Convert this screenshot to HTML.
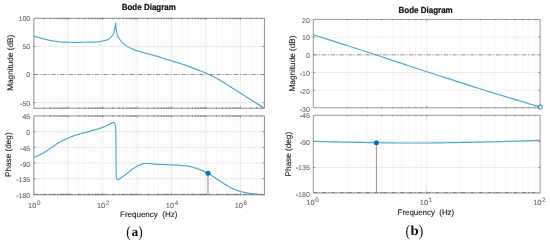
<!DOCTYPE html>
<html><head><meta charset="utf-8"><title>Bode Diagram</title>
<style>html,body{margin:0;padding:0;background:#fff}svg{display:block}text{text-rendering:geometricPrecision}</style></head>
<body><svg width="550" height="243" viewBox="0 0 550 243" font-family='"Liberation Sans", Arial, Helvetica, sans-serif'>
<rect width="550" height="243" fill="#fff"/>
<line x1="44.27" y1="18.3" x2="44.27" y2="108.2" stroke="#e9e9e9" stroke-width="0.6" stroke-dasharray="0.8 0.8"/>
<line x1="50.33" y1="18.3" x2="50.33" y2="108.2" stroke="#e9e9e9" stroke-width="0.6" stroke-dasharray="0.8 0.8"/>
<line x1="54.63" y1="18.3" x2="54.63" y2="108.2" stroke="#e9e9e9" stroke-width="0.6" stroke-dasharray="0.8 0.8"/>
<line x1="57.97" y1="18.3" x2="57.97" y2="108.2" stroke="#e9e9e9" stroke-width="0.6" stroke-dasharray="0.8 0.8"/>
<line x1="60.69" y1="18.3" x2="60.69" y2="108.2" stroke="#e9e9e9" stroke-width="0.6" stroke-dasharray="0.8 0.8"/>
<line x1="63" y1="18.3" x2="63" y2="108.2" stroke="#e9e9e9" stroke-width="0.6" stroke-dasharray="0.8 0.8"/>
<line x1="65" y1="18.3" x2="65" y2="108.2" stroke="#e9e9e9" stroke-width="0.6" stroke-dasharray="0.8 0.8"/>
<line x1="66.76" y1="18.3" x2="66.76" y2="108.2" stroke="#e9e9e9" stroke-width="0.6" stroke-dasharray="0.8 0.8"/>
<line x1="78.7" y1="18.3" x2="78.7" y2="108.2" stroke="#e9e9e9" stroke-width="0.6" stroke-dasharray="0.8 0.8"/>
<line x1="84.76" y1="18.3" x2="84.76" y2="108.2" stroke="#e9e9e9" stroke-width="0.6" stroke-dasharray="0.8 0.8"/>
<line x1="89.06" y1="18.3" x2="89.06" y2="108.2" stroke="#e9e9e9" stroke-width="0.6" stroke-dasharray="0.8 0.8"/>
<line x1="92.4" y1="18.3" x2="92.4" y2="108.2" stroke="#e9e9e9" stroke-width="0.6" stroke-dasharray="0.8 0.8"/>
<line x1="95.13" y1="18.3" x2="95.13" y2="108.2" stroke="#e9e9e9" stroke-width="0.6" stroke-dasharray="0.8 0.8"/>
<line x1="97.43" y1="18.3" x2="97.43" y2="108.2" stroke="#e9e9e9" stroke-width="0.6" stroke-dasharray="0.8 0.8"/>
<line x1="99.43" y1="18.3" x2="99.43" y2="108.2" stroke="#e9e9e9" stroke-width="0.6" stroke-dasharray="0.8 0.8"/>
<line x1="101.19" y1="18.3" x2="101.19" y2="108.2" stroke="#e9e9e9" stroke-width="0.6" stroke-dasharray="0.8 0.8"/>
<line x1="68.33" y1="18.3" x2="68.33" y2="108.2" stroke="#e3e3e3" stroke-width="0.7"/>
<line x1="113.13" y1="18.3" x2="113.13" y2="108.2" stroke="#e9e9e9" stroke-width="0.6" stroke-dasharray="0.8 0.8"/>
<line x1="119.2" y1="18.3" x2="119.2" y2="108.2" stroke="#e9e9e9" stroke-width="0.6" stroke-dasharray="0.8 0.8"/>
<line x1="123.5" y1="18.3" x2="123.5" y2="108.2" stroke="#e9e9e9" stroke-width="0.6" stroke-dasharray="0.8 0.8"/>
<line x1="126.83" y1="18.3" x2="126.83" y2="108.2" stroke="#e9e9e9" stroke-width="0.6" stroke-dasharray="0.8 0.8"/>
<line x1="129.56" y1="18.3" x2="129.56" y2="108.2" stroke="#e9e9e9" stroke-width="0.6" stroke-dasharray="0.8 0.8"/>
<line x1="131.87" y1="18.3" x2="131.87" y2="108.2" stroke="#e9e9e9" stroke-width="0.6" stroke-dasharray="0.8 0.8"/>
<line x1="133.86" y1="18.3" x2="133.86" y2="108.2" stroke="#e9e9e9" stroke-width="0.6" stroke-dasharray="0.8 0.8"/>
<line x1="135.62" y1="18.3" x2="135.62" y2="108.2" stroke="#e9e9e9" stroke-width="0.6" stroke-dasharray="0.8 0.8"/>
<line x1="102.77" y1="18.3" x2="102.77" y2="108.2" stroke="#e3e3e3" stroke-width="0.7"/>
<line x1="147.57" y1="18.3" x2="147.57" y2="108.2" stroke="#e9e9e9" stroke-width="0.6" stroke-dasharray="0.8 0.8"/>
<line x1="153.63" y1="18.3" x2="153.63" y2="108.2" stroke="#e9e9e9" stroke-width="0.6" stroke-dasharray="0.8 0.8"/>
<line x1="157.93" y1="18.3" x2="157.93" y2="108.2" stroke="#e9e9e9" stroke-width="0.6" stroke-dasharray="0.8 0.8"/>
<line x1="161.27" y1="18.3" x2="161.27" y2="108.2" stroke="#e9e9e9" stroke-width="0.6" stroke-dasharray="0.8 0.8"/>
<line x1="163.99" y1="18.3" x2="163.99" y2="108.2" stroke="#e9e9e9" stroke-width="0.6" stroke-dasharray="0.8 0.8"/>
<line x1="166.3" y1="18.3" x2="166.3" y2="108.2" stroke="#e9e9e9" stroke-width="0.6" stroke-dasharray="0.8 0.8"/>
<line x1="168.3" y1="18.3" x2="168.3" y2="108.2" stroke="#e9e9e9" stroke-width="0.6" stroke-dasharray="0.8 0.8"/>
<line x1="170.06" y1="18.3" x2="170.06" y2="108.2" stroke="#e9e9e9" stroke-width="0.6" stroke-dasharray="0.8 0.8"/>
<line x1="137.2" y1="18.3" x2="137.2" y2="108.2" stroke="#e3e3e3" stroke-width="0.7"/>
<line x1="182" y1="18.3" x2="182" y2="108.2" stroke="#e9e9e9" stroke-width="0.6" stroke-dasharray="0.8 0.8"/>
<line x1="188.06" y1="18.3" x2="188.06" y2="108.2" stroke="#e9e9e9" stroke-width="0.6" stroke-dasharray="0.8 0.8"/>
<line x1="192.36" y1="18.3" x2="192.36" y2="108.2" stroke="#e9e9e9" stroke-width="0.6" stroke-dasharray="0.8 0.8"/>
<line x1="195.7" y1="18.3" x2="195.7" y2="108.2" stroke="#e9e9e9" stroke-width="0.6" stroke-dasharray="0.8 0.8"/>
<line x1="198.43" y1="18.3" x2="198.43" y2="108.2" stroke="#e9e9e9" stroke-width="0.6" stroke-dasharray="0.8 0.8"/>
<line x1="200.73" y1="18.3" x2="200.73" y2="108.2" stroke="#e9e9e9" stroke-width="0.6" stroke-dasharray="0.8 0.8"/>
<line x1="202.73" y1="18.3" x2="202.73" y2="108.2" stroke="#e9e9e9" stroke-width="0.6" stroke-dasharray="0.8 0.8"/>
<line x1="204.49" y1="18.3" x2="204.49" y2="108.2" stroke="#e9e9e9" stroke-width="0.6" stroke-dasharray="0.8 0.8"/>
<line x1="171.63" y1="18.3" x2="171.63" y2="108.2" stroke="#e3e3e3" stroke-width="0.7"/>
<line x1="216.43" y1="18.3" x2="216.43" y2="108.2" stroke="#e9e9e9" stroke-width="0.6" stroke-dasharray="0.8 0.8"/>
<line x1="222.5" y1="18.3" x2="222.5" y2="108.2" stroke="#e9e9e9" stroke-width="0.6" stroke-dasharray="0.8 0.8"/>
<line x1="226.8" y1="18.3" x2="226.8" y2="108.2" stroke="#e9e9e9" stroke-width="0.6" stroke-dasharray="0.8 0.8"/>
<line x1="230.13" y1="18.3" x2="230.13" y2="108.2" stroke="#e9e9e9" stroke-width="0.6" stroke-dasharray="0.8 0.8"/>
<line x1="232.86" y1="18.3" x2="232.86" y2="108.2" stroke="#e9e9e9" stroke-width="0.6" stroke-dasharray="0.8 0.8"/>
<line x1="235.17" y1="18.3" x2="235.17" y2="108.2" stroke="#e9e9e9" stroke-width="0.6" stroke-dasharray="0.8 0.8"/>
<line x1="237.16" y1="18.3" x2="237.16" y2="108.2" stroke="#e9e9e9" stroke-width="0.6" stroke-dasharray="0.8 0.8"/>
<line x1="238.92" y1="18.3" x2="238.92" y2="108.2" stroke="#e9e9e9" stroke-width="0.6" stroke-dasharray="0.8 0.8"/>
<line x1="206.07" y1="18.3" x2="206.07" y2="108.2" stroke="#e3e3e3" stroke-width="0.7"/>
<line x1="250.87" y1="18.3" x2="250.87" y2="108.2" stroke="#e9e9e9" stroke-width="0.6" stroke-dasharray="0.8 0.8"/>
<line x1="256.93" y1="18.3" x2="256.93" y2="108.2" stroke="#e9e9e9" stroke-width="0.6" stroke-dasharray="0.8 0.8"/>
<line x1="261.23" y1="18.3" x2="261.23" y2="108.2" stroke="#e9e9e9" stroke-width="0.6" stroke-dasharray="0.8 0.8"/>
<line x1="240.5" y1="18.3" x2="240.5" y2="108.2" stroke="#e3e3e3" stroke-width="0.7"/>
<line x1="33.9" y1="46.4" x2="264.4" y2="46.4" stroke="#e3e3e3" stroke-width="0.7"/>
<line x1="33.9" y1="74.5" x2="264.4" y2="74.5" stroke="#e3e3e3" stroke-width="0.7"/>
<line x1="33.9" y1="102.6" x2="264.4" y2="102.6" stroke="#e3e3e3" stroke-width="0.7"/>
<line x1="44.27" y1="115.9" x2="44.27" y2="194.8" stroke="#e9e9e9" stroke-width="0.6" stroke-dasharray="0.8 0.8"/>
<line x1="50.33" y1="115.9" x2="50.33" y2="194.8" stroke="#e9e9e9" stroke-width="0.6" stroke-dasharray="0.8 0.8"/>
<line x1="54.63" y1="115.9" x2="54.63" y2="194.8" stroke="#e9e9e9" stroke-width="0.6" stroke-dasharray="0.8 0.8"/>
<line x1="57.97" y1="115.9" x2="57.97" y2="194.8" stroke="#e9e9e9" stroke-width="0.6" stroke-dasharray="0.8 0.8"/>
<line x1="60.69" y1="115.9" x2="60.69" y2="194.8" stroke="#e9e9e9" stroke-width="0.6" stroke-dasharray="0.8 0.8"/>
<line x1="63" y1="115.9" x2="63" y2="194.8" stroke="#e9e9e9" stroke-width="0.6" stroke-dasharray="0.8 0.8"/>
<line x1="65" y1="115.9" x2="65" y2="194.8" stroke="#e9e9e9" stroke-width="0.6" stroke-dasharray="0.8 0.8"/>
<line x1="66.76" y1="115.9" x2="66.76" y2="194.8" stroke="#e9e9e9" stroke-width="0.6" stroke-dasharray="0.8 0.8"/>
<line x1="78.7" y1="115.9" x2="78.7" y2="194.8" stroke="#e9e9e9" stroke-width="0.6" stroke-dasharray="0.8 0.8"/>
<line x1="84.76" y1="115.9" x2="84.76" y2="194.8" stroke="#e9e9e9" stroke-width="0.6" stroke-dasharray="0.8 0.8"/>
<line x1="89.06" y1="115.9" x2="89.06" y2="194.8" stroke="#e9e9e9" stroke-width="0.6" stroke-dasharray="0.8 0.8"/>
<line x1="92.4" y1="115.9" x2="92.4" y2="194.8" stroke="#e9e9e9" stroke-width="0.6" stroke-dasharray="0.8 0.8"/>
<line x1="95.13" y1="115.9" x2="95.13" y2="194.8" stroke="#e9e9e9" stroke-width="0.6" stroke-dasharray="0.8 0.8"/>
<line x1="97.43" y1="115.9" x2="97.43" y2="194.8" stroke="#e9e9e9" stroke-width="0.6" stroke-dasharray="0.8 0.8"/>
<line x1="99.43" y1="115.9" x2="99.43" y2="194.8" stroke="#e9e9e9" stroke-width="0.6" stroke-dasharray="0.8 0.8"/>
<line x1="101.19" y1="115.9" x2="101.19" y2="194.8" stroke="#e9e9e9" stroke-width="0.6" stroke-dasharray="0.8 0.8"/>
<line x1="68.33" y1="115.9" x2="68.33" y2="194.8" stroke="#e3e3e3" stroke-width="0.7"/>
<line x1="113.13" y1="115.9" x2="113.13" y2="194.8" stroke="#e9e9e9" stroke-width="0.6" stroke-dasharray="0.8 0.8"/>
<line x1="119.2" y1="115.9" x2="119.2" y2="194.8" stroke="#e9e9e9" stroke-width="0.6" stroke-dasharray="0.8 0.8"/>
<line x1="123.5" y1="115.9" x2="123.5" y2="194.8" stroke="#e9e9e9" stroke-width="0.6" stroke-dasharray="0.8 0.8"/>
<line x1="126.83" y1="115.9" x2="126.83" y2="194.8" stroke="#e9e9e9" stroke-width="0.6" stroke-dasharray="0.8 0.8"/>
<line x1="129.56" y1="115.9" x2="129.56" y2="194.8" stroke="#e9e9e9" stroke-width="0.6" stroke-dasharray="0.8 0.8"/>
<line x1="131.87" y1="115.9" x2="131.87" y2="194.8" stroke="#e9e9e9" stroke-width="0.6" stroke-dasharray="0.8 0.8"/>
<line x1="133.86" y1="115.9" x2="133.86" y2="194.8" stroke="#e9e9e9" stroke-width="0.6" stroke-dasharray="0.8 0.8"/>
<line x1="135.62" y1="115.9" x2="135.62" y2="194.8" stroke="#e9e9e9" stroke-width="0.6" stroke-dasharray="0.8 0.8"/>
<line x1="102.77" y1="115.9" x2="102.77" y2="194.8" stroke="#e3e3e3" stroke-width="0.7"/>
<line x1="147.57" y1="115.9" x2="147.57" y2="194.8" stroke="#e9e9e9" stroke-width="0.6" stroke-dasharray="0.8 0.8"/>
<line x1="153.63" y1="115.9" x2="153.63" y2="194.8" stroke="#e9e9e9" stroke-width="0.6" stroke-dasharray="0.8 0.8"/>
<line x1="157.93" y1="115.9" x2="157.93" y2="194.8" stroke="#e9e9e9" stroke-width="0.6" stroke-dasharray="0.8 0.8"/>
<line x1="161.27" y1="115.9" x2="161.27" y2="194.8" stroke="#e9e9e9" stroke-width="0.6" stroke-dasharray="0.8 0.8"/>
<line x1="163.99" y1="115.9" x2="163.99" y2="194.8" stroke="#e9e9e9" stroke-width="0.6" stroke-dasharray="0.8 0.8"/>
<line x1="166.3" y1="115.9" x2="166.3" y2="194.8" stroke="#e9e9e9" stroke-width="0.6" stroke-dasharray="0.8 0.8"/>
<line x1="168.3" y1="115.9" x2="168.3" y2="194.8" stroke="#e9e9e9" stroke-width="0.6" stroke-dasharray="0.8 0.8"/>
<line x1="170.06" y1="115.9" x2="170.06" y2="194.8" stroke="#e9e9e9" stroke-width="0.6" stroke-dasharray="0.8 0.8"/>
<line x1="137.2" y1="115.9" x2="137.2" y2="194.8" stroke="#e3e3e3" stroke-width="0.7"/>
<line x1="182" y1="115.9" x2="182" y2="194.8" stroke="#e9e9e9" stroke-width="0.6" stroke-dasharray="0.8 0.8"/>
<line x1="188.06" y1="115.9" x2="188.06" y2="194.8" stroke="#e9e9e9" stroke-width="0.6" stroke-dasharray="0.8 0.8"/>
<line x1="192.36" y1="115.9" x2="192.36" y2="194.8" stroke="#e9e9e9" stroke-width="0.6" stroke-dasharray="0.8 0.8"/>
<line x1="195.7" y1="115.9" x2="195.7" y2="194.8" stroke="#e9e9e9" stroke-width="0.6" stroke-dasharray="0.8 0.8"/>
<line x1="198.43" y1="115.9" x2="198.43" y2="194.8" stroke="#e9e9e9" stroke-width="0.6" stroke-dasharray="0.8 0.8"/>
<line x1="200.73" y1="115.9" x2="200.73" y2="194.8" stroke="#e9e9e9" stroke-width="0.6" stroke-dasharray="0.8 0.8"/>
<line x1="202.73" y1="115.9" x2="202.73" y2="194.8" stroke="#e9e9e9" stroke-width="0.6" stroke-dasharray="0.8 0.8"/>
<line x1="204.49" y1="115.9" x2="204.49" y2="194.8" stroke="#e9e9e9" stroke-width="0.6" stroke-dasharray="0.8 0.8"/>
<line x1="171.63" y1="115.9" x2="171.63" y2="194.8" stroke="#e3e3e3" stroke-width="0.7"/>
<line x1="216.43" y1="115.9" x2="216.43" y2="194.8" stroke="#e9e9e9" stroke-width="0.6" stroke-dasharray="0.8 0.8"/>
<line x1="222.5" y1="115.9" x2="222.5" y2="194.8" stroke="#e9e9e9" stroke-width="0.6" stroke-dasharray="0.8 0.8"/>
<line x1="226.8" y1="115.9" x2="226.8" y2="194.8" stroke="#e9e9e9" stroke-width="0.6" stroke-dasharray="0.8 0.8"/>
<line x1="230.13" y1="115.9" x2="230.13" y2="194.8" stroke="#e9e9e9" stroke-width="0.6" stroke-dasharray="0.8 0.8"/>
<line x1="232.86" y1="115.9" x2="232.86" y2="194.8" stroke="#e9e9e9" stroke-width="0.6" stroke-dasharray="0.8 0.8"/>
<line x1="235.17" y1="115.9" x2="235.17" y2="194.8" stroke="#e9e9e9" stroke-width="0.6" stroke-dasharray="0.8 0.8"/>
<line x1="237.16" y1="115.9" x2="237.16" y2="194.8" stroke="#e9e9e9" stroke-width="0.6" stroke-dasharray="0.8 0.8"/>
<line x1="238.92" y1="115.9" x2="238.92" y2="194.8" stroke="#e9e9e9" stroke-width="0.6" stroke-dasharray="0.8 0.8"/>
<line x1="206.07" y1="115.9" x2="206.07" y2="194.8" stroke="#e3e3e3" stroke-width="0.7"/>
<line x1="250.87" y1="115.9" x2="250.87" y2="194.8" stroke="#e9e9e9" stroke-width="0.6" stroke-dasharray="0.8 0.8"/>
<line x1="256.93" y1="115.9" x2="256.93" y2="194.8" stroke="#e9e9e9" stroke-width="0.6" stroke-dasharray="0.8 0.8"/>
<line x1="261.23" y1="115.9" x2="261.23" y2="194.8" stroke="#e9e9e9" stroke-width="0.6" stroke-dasharray="0.8 0.8"/>
<line x1="240.5" y1="115.9" x2="240.5" y2="194.8" stroke="#e3e3e3" stroke-width="0.7"/>
<line x1="33.9" y1="131.6" x2="264.4" y2="131.6" stroke="#e3e3e3" stroke-width="0.7"/>
<line x1="33.9" y1="147.3" x2="264.4" y2="147.3" stroke="#e3e3e3" stroke-width="0.7"/>
<line x1="33.9" y1="163" x2="264.4" y2="163" stroke="#e3e3e3" stroke-width="0.7"/>
<line x1="33.9" y1="178.7" x2="264.4" y2="178.7" stroke="#e3e3e3" stroke-width="0.7"/>
<line x1="33.9" y1="74.5" x2="264.4" y2="74.5" stroke="#808080" stroke-width="0.8" stroke-dasharray="4.4 1.5 1 1.8"/>
<line x1="33.9" y1="194.4" x2="264.4" y2="194.4" stroke="#5a5a5a" stroke-width="0.9" stroke-dasharray="4.4 1.5 1 1.8"/>
<path d="M33.9 36 L34.5 36.2 L35.1 36.39 L35.71 36.58 L36.31 36.77 L36.92 36.96 L37.52 37.14 L38.13 37.32 L38.73 37.5 L39.34 37.68 L39.95 37.86 L40.56 38.03 L41.16 38.2 L41.77 38.37 L42.38 38.53 L42.99 38.69 L43.61 38.85 L44.22 39.02 L44.83 39.18 L45.44 39.34 L46.05 39.5 L46.67 39.66 L47.28 39.82 L47.9 39.97 L48.51 40.11 L49.13 40.25 L49.75 40.37 L50.37 40.49 L50.99 40.6 L51.61 40.7 L52.23 40.8 L52.86 40.9 L53.48 41 L54.11 41.09 L54.73 41.19 L55.36 41.28 L55.99 41.37 L56.62 41.46 L57.25 41.54 L57.88 41.62 L58.51 41.7 L59.14 41.77 L59.77 41.84 L60.4 41.89 L61.03 41.95 L61.66 41.99 L62.29 42.03 L62.92 42.07 L63.55 42.09 L64.18 42.11 L64.81 42.13 L65.44 42.14 L66.07 42.16 L66.7 42.17 L67.33 42.19 L67.97 42.2 L68.6 42.22 L69.23 42.23 L69.86 42.24 L70.5 42.25 L71.13 42.26 L71.76 42.27 L72.4 42.28 L73.03 42.28 L73.66 42.29 L74.29 42.29 L74.93 42.3 L75.56 42.3 L76.19 42.3 L76.82 42.3 L77.46 42.3 L78.09 42.3 L78.72 42.3 L79.35 42.29 L79.98 42.29 L80.62 42.29 L81.25 42.28 L81.88 42.28 L82.51 42.27 L83.15 42.27 L83.78 42.26 L84.41 42.25 L85.04 42.25 L85.68 42.24 L86.31 42.23 L86.94 42.23 L87.57 42.22 L88.2 42.21 L88.84 42.21 L89.47 42.2 L90.1 42.19 L90.73 42.18 L91.37 42.17 L92 42.17 L92.63 42.16 L93.27 42.14 L93.9 42.13 L94.53 42.11 L95.16 42.09 L95.79 42.06 L96.42 42.02 L97.05 41.96 L97.68 41.88 L98.3 41.8 L98.93 41.7 L99.56 41.6 L100.18 41.49 L100.81 41.37 L101.43 41.25 L102.05 41.13 L102.67 41.01 L103.29 40.88 L103.91 40.75 L104.54 40.61 L105.16 40.45 L105.78 40.28 L106.38 40.08 L106.97 39.87 L107.53 39.64 L108.08 39.37 L108.63 39.05 L109.17 38.69 L109.69 38.3 L110.19 37.88 L110.67 37.45 L111.12 37 L111.54 36.55 L111.94 36.08 L112.33 35.57 L112.7 35.03 L113.03 34.48 L113.32 33.91 L113.56 33.35 L113.76 32.76 L113.95 32.17 L114.12 31.56 L114.28 30.94 L114.42 30.31 L114.55 29.68 L114.68 29.06 L114.79 28.43 L114.91 27.81 L115.01 27.19 L115.12 26.57 L115.22 25.94 L115.31 25.32 L115.39 24.69 L115.47 24.06 L115.54 23.43 L115.6 22.8 L115.6 22.8 L115.63 23.52 L115.67 24.25 L115.73 24.97 L115.79 25.69 L115.87 26.4 L115.95 27.12 L116.04 27.83 L116.14 28.54 L116.24 29.25 L116.35 29.96 L116.47 30.67 L116.58 31.38 L116.7 32.08 L116.84 32.8 L117 33.51 L117.17 34.21 L117.37 34.9 L117.59 35.57 L117.85 36.23 L118.16 36.87 L118.52 37.51 L118.91 38.13 L119.31 38.74 L119.72 39.32 L120.14 39.9 L120.59 40.45 L121.07 41 L121.56 41.53 L122.06 42.06 L122.57 42.57 L123.08 43.07 L123.6 43.57 L124.13 44.06 L124.67 44.54 L125.23 45 L125.8 45.43 L126.38 45.84 L126.98 46.23 L127.6 46.61 L128.23 46.97 L128.86 47.32 L129.5 47.65 L130.14 47.97 L130.79 48.27 L131.44 48.57 L132.11 48.85 L132.77 49.12 L133.44 49.39 L134.12 49.65 L134.79 49.9 L135.47 50.14 L136.15 50.38 L136.83 50.62 L137.51 50.84 L138.19 51.07 L138.88 51.29 L139.56 51.5 L140.25 51.71 L140.94 51.92 L141.63 52.12 L142.32 52.32 L143.02 52.52 L143.71 52.72 L144.4 52.91 L145.09 53.11 L145.79 53.3 L146.48 53.49 L147.17 53.69 L147.87 53.87 L148.56 54.05 L149.26 54.23 L149.96 54.41 L150.66 54.59 L151.35 54.76 L152.05 54.93 L152.75 55.11 L153.45 55.29 L154.14 55.47 L154.84 55.65 L155.53 55.84 L156.22 56.03 L156.91 56.23 L157.6 56.44 L158.29 56.66 L158.97 56.88 L159.65 57.11 L160.34 57.34 L161.02 57.57 L161.7 57.8 L162.38 58.04 L163.06 58.27 L163.74 58.5 L164.43 58.72 L165.11 58.93 L165.8 59.15 L166.49 59.35 L167.18 59.56 L167.87 59.76 L168.56 59.96 L169.25 60.16 L169.94 60.36 L170.63 60.56 L171.32 60.77 L172.01 60.97 L172.7 61.18 L173.39 61.39 L174.07 61.6 L174.76 61.81 L175.45 62.03 L176.14 62.24 L176.82 62.45 L177.51 62.67 L178.2 62.89 L178.88 63.11 L179.56 63.33 L180.25 63.55 L180.93 63.78 L181.61 64.01 L182.29 64.24 L182.97 64.47 L183.65 64.7 L184.33 64.94 L185.01 65.18 L185.69 65.42 L186.37 65.66 L187.04 65.9 L187.72 66.15 L188.4 66.39 L189.07 66.64 L189.75 66.89 L190.42 67.14 L191.1 67.39 L191.77 67.64 L192.44 67.89 L193.12 68.14 L193.79 68.4 L194.46 68.65 L195.14 68.9 L195.81 69.16 L196.48 69.41 L197.16 69.66 L197.83 69.92 L198.51 70.17 L199.18 70.43 L199.85 70.69 L200.53 70.94 L201.2 71.2 L201.87 71.47 L202.54 71.73 L203.21 72 L203.88 72.26 L204.54 72.54 L205.21 72.81 L205.87 73.09 L206.53 73.37 L207.19 73.65 L207.85 73.94 L208.5 74.23 L209.16 74.53 L209.81 74.83 L210.46 75.13 L211.1 75.44 L211.75 75.76 L212.39 76.08 L213.04 76.41 L213.68 76.73 L214.32 77.07 L214.95 77.4 L215.59 77.74 L216.22 78.09 L216.86 78.43 L217.49 78.78 L218.11 79.13 L218.74 79.48 L219.36 79.84 L219.99 80.19 L220.61 80.56 L221.22 80.92 L221.84 81.3 L222.45 81.67 L223.06 82.05 L223.67 82.43 L224.28 82.82 L224.89 83.21 L225.49 83.59 L226.1 83.98 L226.7 84.38 L227.3 84.77 L227.91 85.16 L228.51 85.55 L229.11 85.95 L229.72 86.34 L230.32 86.73 L230.93 87.12 L231.54 87.51 L232.14 87.89 L232.75 88.27 L233.36 88.66 L233.97 89.04 L234.58 89.43 L235.18 89.81 L235.79 90.19 L236.4 90.58 L237.01 90.96 L237.62 91.35 L238.22 91.73 L238.83 92.11 L239.44 92.5 L240.05 92.88 L240.66 93.27 L241.26 93.65 L241.87 94.04 L242.48 94.42 L243.09 94.81 L243.69 95.2 L244.3 95.58 L244.91 95.97 L245.51 96.35 L246.12 96.74 L246.72 97.13 L247.33 97.52 L247.93 97.91 L248.54 98.3 L249.14 98.69 L249.74 99.08 L250.35 99.48 L250.95 99.87 L251.55 100.26 L252.16 100.65 L252.76 101.04 L253.37 101.43 L253.97 101.81 L254.58 102.2 L255.19 102.59 L255.8 102.97 L256.4 103.35 L257.01 103.74 L257.62 104.12 L258.24 104.49 L258.85 104.87 L259.46 105.24 L260.08 105.62 L260.69 105.99 L261.31 106.36 L261.93 106.73 L262.54 107.1 L263.16 107.47 L263.78 107.83 L264.4 108.2" fill="none" stroke="#4eaad0" stroke-width="1.2" stroke-linejoin="round"/>
<line x1="208" y1="173.3" x2="208" y2="194.8" stroke="#a6a6a6" stroke-width="1.2"/>
<path d="M33.9 157.4 L34.47 157.17 L35.04 156.94 L35.6 156.71 L36.17 156.47 L36.73 156.22 L37.28 155.97 L37.84 155.72 L38.39 155.46 L38.94 155.2 L39.49 154.93 L40.04 154.67 L40.58 154.39 L41.12 154.12 L41.66 153.84 L42.2 153.55 L42.73 153.26 L43.26 152.97 L43.79 152.68 L44.32 152.38 L44.84 152.07 L45.36 151.75 L45.87 151.42 L46.38 151.09 L46.9 150.76 L47.4 150.42 L47.91 150.08 L48.42 149.74 L48.92 149.4 L49.43 149.05 L49.93 148.71 L50.44 148.37 L50.95 148.03 L51.46 147.7 L51.96 147.35 L52.46 147.01 L52.96 146.66 L53.46 146.3 L53.96 145.95 L54.46 145.6 L54.96 145.25 L55.46 144.9 L55.96 144.55 L56.46 144.21 L56.97 143.87 L57.48 143.54 L58 143.22 L58.52 142.91 L59.04 142.6 L59.57 142.3 L60.1 142.01 L60.63 141.71 L61.17 141.42 L61.7 141.13 L62.25 140.85 L62.79 140.57 L63.33 140.3 L63.88 140.02 L64.43 139.76 L64.98 139.49 L65.53 139.23 L66.09 138.98 L66.64 138.72 L67.2 138.48 L67.75 138.23 L68.31 137.99 L68.87 137.75 L69.43 137.52 L70 137.29 L70.56 137.06 L71.13 136.83 L71.7 136.61 L72.27 136.39 L72.84 136.18 L73.41 135.96 L73.99 135.76 L74.56 135.55 L75.14 135.35 L75.71 135.16 L76.29 134.97 L76.87 134.78 L77.45 134.6 L78.03 134.43 L78.61 134.25 L79.2 134.09 L79.78 133.92 L80.37 133.76 L80.96 133.6 L81.55 133.45 L82.14 133.29 L82.73 133.14 L83.32 132.99 L83.91 132.83 L84.5 132.68 L85.09 132.53 L85.68 132.38 L86.27 132.22 L86.86 132.07 L87.45 131.91 L88.04 131.75 L88.63 131.59 L89.21 131.42 L89.8 131.26 L90.39 131.09 L90.97 130.93 L91.56 130.76 L92.15 130.6 L92.74 130.44 L93.33 130.27 L93.92 130.11 L94.5 129.95 L95.09 129.78 L95.68 129.61 L96.26 129.44 L96.85 129.27 L97.43 129.1 L98.02 128.92 L98.6 128.74 L99.18 128.56 L99.76 128.37 L100.33 128.18 L100.91 127.99 L101.48 127.79 L102.05 127.58 L102.62 127.37 L103.18 127.15 L103.75 126.92 L104.31 126.68 L104.87 126.44 L105.42 126.19 L105.98 125.94 L106.53 125.68 L107.09 125.42 L107.64 125.16 L108.19 124.9 L108.75 124.64 L109.3 124.39 L109.85 124.13 L110.41 123.82 L110.98 123.48 L111.55 123.14 L112.11 122.83 L112.65 122.58 L113.18 122.43 L113.69 122.43 L114.24 122.78 L114.69 123.29 L114.91 123.78 L115.07 124.31 L115.21 124.89 L115.33 125.5 L115.43 126.14 L115.51 126.79 L115.56 127.43 L115.6 128.04 L115.63 128.65 L115.66 129.25 L115.68 129.86 L115.7 130.47 L115.73 131.07 L115.74 131.68 L115.76 132.29 L115.78 132.9 L115.79 133.51 L115.81 134.12 L115.82 134.73 L115.83 135.34 L115.84 135.95 L115.85 136.56 L115.86 137.17 L115.87 137.78 L115.88 138.4 L115.89 139.01 L115.9 139.61 L115.9 140.22 L115.91 140.83 L115.92 141.44 L115.92 142.05 L115.93 142.66 L115.94 143.27 L115.94 143.88 L115.95 144.49 L115.95 145.1 L115.96 145.71 L115.96 146.31 L115.97 146.92 L115.97 147.53 L115.98 148.14 L115.98 148.75 L115.98 149.36 L115.99 149.97 L115.99 150.58 L116 151.19 L116 151.8 L116 152.41 L116.01 153.02 L116.01 153.62 L116.01 154.23 L116.02 154.84 L116.02 155.45 L116.02 156.06 L116.03 156.67 L116.03 157.28 L116.04 157.89 L116.04 158.5 L116.05 159.11 L116.05 159.72 L116.05 160.33 L116.06 160.94 L116.06 161.54 L116.07 162.15 L116.08 162.76 L116.08 163.37 L116.09 163.98 L116.1 164.59 L116.1 165.2 L116.11 165.81 L116.12 166.42 L116.12 167.03 L116.13 167.64 L116.14 168.25 L116.14 168.86 L116.15 169.47 L116.16 170.08 L116.17 170.69 L116.18 171.3 L116.19 171.91 L116.2 172.52 L116.21 173.13 L116.23 173.73 L116.24 174.34 L116.26 174.95 L116.28 175.56 L116.31 176.16 L116.35 176.79 L116.41 177.43 L116.5 178.05 L116.62 178.62 L116.82 179.15 L117.3 179.64 L117.83 179.64 L118.42 179.38 L118.97 179.12 L119.5 178.83 L120.01 178.51 L120.52 178.16 L121.02 177.8 L121.51 177.44 L122.01 177.08 L122.51 176.73 L123.01 176.38 L123.5 176.03 L124 175.67 L124.49 175.31 L124.98 174.95 L125.47 174.59 L125.96 174.23 L126.45 173.86 L126.94 173.5 L127.43 173.13 L127.91 172.76 L128.39 172.38 L128.87 172 L129.34 171.61 L129.81 171.22 L130.28 170.82 L130.75 170.43 L131.22 170.04 L131.7 169.66 L132.18 169.28 L132.66 168.92 L133.15 168.56 L133.65 168.22 L134.16 167.9 L134.67 167.58 L135.2 167.27 L135.73 166.97 L136.26 166.67 L136.8 166.38 L137.35 166.09 L137.9 165.82 L138.45 165.56 L139.01 165.31 L139.56 165.07 L140.13 164.85 L140.69 164.62 L141.26 164.37 L141.84 164.14 L142.42 163.91 L143.01 163.73 L143.6 163.59 L144.2 163.51 L144.79 163.5 L145.4 163.5 L146.01 163.5 L146.62 163.5 L147.23 163.5 L147.84 163.5 L148.45 163.51 L149.06 163.53 L149.67 163.57 L150.27 163.62 L150.88 163.69 L151.48 163.76 L152.09 163.84 L152.7 163.91 L153.3 163.99 L153.91 164.06 L154.51 164.12 L155.12 164.17 L155.73 164.21 L156.34 164.25 L156.94 164.28 L157.55 164.31 L158.16 164.34 L158.77 164.37 L159.38 164.4 L159.99 164.42 L160.59 164.45 L161.2 164.47 L161.81 164.5 L162.42 164.52 L163.03 164.54 L163.64 164.56 L164.25 164.58 L164.86 164.6 L165.47 164.62 L166.08 164.64 L166.68 164.67 L167.29 164.69 L167.9 164.71 L168.51 164.74 L169.12 164.76 L169.73 164.79 L170.34 164.81 L170.95 164.84 L171.55 164.87 L172.16 164.9 L172.77 164.94 L173.38 164.97 L173.99 165 L174.6 165.03 L175.21 165.07 L175.82 165.1 L176.43 165.13 L177.04 165.17 L177.65 165.21 L178.26 165.24 L178.87 165.28 L179.48 165.32 L180.09 165.36 L180.7 165.41 L181.31 165.45 L181.92 165.5 L182.52 165.55 L183.13 165.6 L183.73 165.66 L184.34 165.71 L184.94 165.77 L185.54 165.84 L186.14 165.9 L186.74 165.98 L187.33 166.06 L187.93 166.16 L188.53 166.27 L189.13 166.38 L189.73 166.51 L190.32 166.64 L190.92 166.78 L191.51 166.93 L192.11 167.09 L192.7 167.25 L193.29 167.42 L193.88 167.59 L194.47 167.77 L195.06 167.95 L195.64 168.13 L196.22 168.32 L196.81 168.51 L197.38 168.7 L197.96 168.89 L198.54 169.08 L199.11 169.27 L199.68 169.47 L200.25 169.68 L200.81 169.9 L201.38 170.13 L201.94 170.36 L202.5 170.6 L203.06 170.85 L203.62 171.11 L204.18 171.37 L204.73 171.63 L205.28 171.9 L205.83 172.17 L206.37 172.45 L206.91 172.73 L207.45 173.01 L207.99 173.29 L208.52 173.58 L209.05 173.88 L209.57 174.18 L210.09 174.49 L210.61 174.81 L211.12 175.14 L211.63 175.46 L212.14 175.8 L212.65 176.14 L213.16 176.48 L213.66 176.82 L214.17 177.17 L214.67 177.51 L215.18 177.86 L215.68 178.21 L216.19 178.55 L216.69 178.9 L217.2 179.24 L217.71 179.58 L218.22 179.91 L218.73 180.24 L219.25 180.57 L219.76 180.89 L220.28 181.22 L220.79 181.54 L221.31 181.88 L221.82 182.21 L222.33 182.54 L222.85 182.88 L223.36 183.21 L223.88 183.55 L224.39 183.88 L224.91 184.21 L225.43 184.54 L225.94 184.87 L226.46 185.19 L226.98 185.51 L227.51 185.82 L228.03 186.13 L228.56 186.44 L229.09 186.73 L229.62 187.02 L230.16 187.3 L230.69 187.58 L231.24 187.84 L231.78 188.1 L232.33 188.35 L232.88 188.59 L233.44 188.83 L234 189.07 L234.56 189.31 L235.12 189.54 L235.69 189.77 L236.27 189.99 L236.84 190.21 L237.41 190.42 L237.99 190.63 L238.57 190.83 L239.15 191.02 L239.74 191.21 L240.32 191.39 L240.9 191.56 L241.49 191.72 L242.07 191.87 L242.66 192.01 L243.25 192.15 L243.84 192.29 L244.43 192.43 L245.03 192.56 L245.63 192.69 L246.22 192.81 L246.82 192.93 L247.43 193.05 L248.03 193.16 L248.63 193.27 L249.23 193.37 L249.84 193.46 L250.44 193.55 L251.04 193.64 L251.65 193.71 L252.25 193.78 L252.85 193.85 L253.46 193.91 L254.06 193.98 L254.67 194.04 L255.27 194.1 L255.88 194.16 L256.48 194.22 L257.09 194.28 L257.7 194.33 L258.3 194.38 L258.91 194.43 L259.52 194.47 L260.13 194.52 L260.74 194.55 L261.35 194.59 L261.96 194.62 L262.57 194.65 L263.18 194.67 L263.79 194.69 L264.4 194.7" fill="none" stroke="#4eaad0" stroke-width="1.2" stroke-linejoin="round"/>
<circle cx="208" cy="173.3" r="2.5" fill="#0072bd"/>
<rect x="33.9" y="18.3" width="230.5" height="89.9" fill="none" stroke="#8c8c8c" stroke-width="1.0"/>
<rect x="33.9" y="115.9" width="230.5" height="78.9" fill="none" stroke="#8c8c8c" stroke-width="1.0"/>
<path d="M44.27 17.9v1.4M44.27 108.6v-1.4M50.33 17.9v1.4M50.33 108.6v-1.4M54.63 17.9v1.4M54.63 108.6v-1.4M57.97 17.9v1.4M57.97 108.6v-1.4M60.69 17.9v1.4M60.69 108.6v-1.4M63 17.9v1.4M63 108.6v-1.4M65 17.9v1.4M65 108.6v-1.4M66.76 17.9v1.4M66.76 108.6v-1.4M68.33 17.9v2M68.33 108.6v-2M78.7 17.9v1.4M78.7 108.6v-1.4M84.76 17.9v1.4M84.76 108.6v-1.4M89.06 17.9v1.4M89.06 108.6v-1.4M92.4 17.9v1.4M92.4 108.6v-1.4M95.13 17.9v1.4M95.13 108.6v-1.4M97.43 17.9v1.4M97.43 108.6v-1.4M99.43 17.9v1.4M99.43 108.6v-1.4M101.19 17.9v1.4M101.19 108.6v-1.4M102.77 17.9v2M102.77 108.6v-2M113.13 17.9v1.4M113.13 108.6v-1.4M119.2 17.9v1.4M119.2 108.6v-1.4M123.5 17.9v1.4M123.5 108.6v-1.4M126.83 17.9v1.4M126.83 108.6v-1.4M129.56 17.9v1.4M129.56 108.6v-1.4M131.87 17.9v1.4M131.87 108.6v-1.4M133.86 17.9v1.4M133.86 108.6v-1.4M135.62 17.9v1.4M135.62 108.6v-1.4M137.2 17.9v2M137.2 108.6v-2M147.57 17.9v1.4M147.57 108.6v-1.4M153.63 17.9v1.4M153.63 108.6v-1.4M157.93 17.9v1.4M157.93 108.6v-1.4M161.27 17.9v1.4M161.27 108.6v-1.4M163.99 17.9v1.4M163.99 108.6v-1.4M166.3 17.9v1.4M166.3 108.6v-1.4M168.3 17.9v1.4M168.3 108.6v-1.4M170.06 17.9v1.4M170.06 108.6v-1.4M171.63 17.9v2M171.63 108.6v-2M182 17.9v1.4M182 108.6v-1.4M188.06 17.9v1.4M188.06 108.6v-1.4M192.36 17.9v1.4M192.36 108.6v-1.4M195.7 17.9v1.4M195.7 108.6v-1.4M198.43 17.9v1.4M198.43 108.6v-1.4M200.73 17.9v1.4M200.73 108.6v-1.4M202.73 17.9v1.4M202.73 108.6v-1.4M204.49 17.9v1.4M204.49 108.6v-1.4M206.07 17.9v2M206.07 108.6v-2M216.43 17.9v1.4M216.43 108.6v-1.4M222.5 17.9v1.4M222.5 108.6v-1.4M226.8 17.9v1.4M226.8 108.6v-1.4M230.13 17.9v1.4M230.13 108.6v-1.4M232.86 17.9v1.4M232.86 108.6v-1.4M235.17 17.9v1.4M235.17 108.6v-1.4M237.16 17.9v1.4M237.16 108.6v-1.4M238.92 17.9v1.4M238.92 108.6v-1.4M240.5 17.9v2M240.5 108.6v-2M250.87 17.9v1.4M250.87 108.6v-1.4M256.93 17.9v1.4M256.93 108.6v-1.4M261.23 17.9v1.4M261.23 108.6v-1.4M33.5 46.4h2.2M264.8 46.4h-2.2M33.5 74.5h2.2M264.8 74.5h-2.2M33.5 102.6h2.2M264.8 102.6h-2.2" stroke="#666" stroke-width="0.7" fill="none"/>
<path d="M44.27 115.5v1.4M44.27 195.2v-1.4M50.33 115.5v1.4M50.33 195.2v-1.4M54.63 115.5v1.4M54.63 195.2v-1.4M57.97 115.5v1.4M57.97 195.2v-1.4M60.69 115.5v1.4M60.69 195.2v-1.4M63 115.5v1.4M63 195.2v-1.4M65 115.5v1.4M65 195.2v-1.4M66.76 115.5v1.4M66.76 195.2v-1.4M68.33 115.5v2M68.33 195.2v-2M78.7 115.5v1.4M78.7 195.2v-1.4M84.76 115.5v1.4M84.76 195.2v-1.4M89.06 115.5v1.4M89.06 195.2v-1.4M92.4 115.5v1.4M92.4 195.2v-1.4M95.13 115.5v1.4M95.13 195.2v-1.4M97.43 115.5v1.4M97.43 195.2v-1.4M99.43 115.5v1.4M99.43 195.2v-1.4M101.19 115.5v1.4M101.19 195.2v-1.4M102.77 115.5v2M102.77 195.2v-2M113.13 115.5v1.4M113.13 195.2v-1.4M119.2 115.5v1.4M119.2 195.2v-1.4M123.5 115.5v1.4M123.5 195.2v-1.4M126.83 115.5v1.4M126.83 195.2v-1.4M129.56 115.5v1.4M129.56 195.2v-1.4M131.87 115.5v1.4M131.87 195.2v-1.4M133.86 115.5v1.4M133.86 195.2v-1.4M135.62 115.5v1.4M135.62 195.2v-1.4M137.2 115.5v2M137.2 195.2v-2M147.57 115.5v1.4M147.57 195.2v-1.4M153.63 115.5v1.4M153.63 195.2v-1.4M157.93 115.5v1.4M157.93 195.2v-1.4M161.27 115.5v1.4M161.27 195.2v-1.4M163.99 115.5v1.4M163.99 195.2v-1.4M166.3 115.5v1.4M166.3 195.2v-1.4M168.3 115.5v1.4M168.3 195.2v-1.4M170.06 115.5v1.4M170.06 195.2v-1.4M171.63 115.5v2M171.63 195.2v-2M182 115.5v1.4M182 195.2v-1.4M188.06 115.5v1.4M188.06 195.2v-1.4M192.36 115.5v1.4M192.36 195.2v-1.4M195.7 115.5v1.4M195.7 195.2v-1.4M198.43 115.5v1.4M198.43 195.2v-1.4M200.73 115.5v1.4M200.73 195.2v-1.4M202.73 115.5v1.4M202.73 195.2v-1.4M204.49 115.5v1.4M204.49 195.2v-1.4M206.07 115.5v2M206.07 195.2v-2M216.43 115.5v1.4M216.43 195.2v-1.4M222.5 115.5v1.4M222.5 195.2v-1.4M226.8 115.5v1.4M226.8 195.2v-1.4M230.13 115.5v1.4M230.13 195.2v-1.4M232.86 115.5v1.4M232.86 195.2v-1.4M235.17 115.5v1.4M235.17 195.2v-1.4M237.16 115.5v1.4M237.16 195.2v-1.4M238.92 115.5v1.4M238.92 195.2v-1.4M240.5 115.5v2M240.5 195.2v-2M250.87 115.5v1.4M250.87 195.2v-1.4M256.93 115.5v1.4M256.93 195.2v-1.4M261.23 115.5v1.4M261.23 195.2v-1.4M33.5 131.6h2.2M264.8 131.6h-2.2M33.5 147.3h2.2M264.8 147.3h-2.2M33.5 163h2.2M264.8 163h-2.2M33.5 178.7h2.2M264.8 178.7h-2.2" stroke="#666" stroke-width="0.7" fill="none"/>
<text x="30.2" y="21.17" font-size="7.0" fill="#6c6c6c" stroke="#6c6c6c" stroke-width="0.12" text-anchor="end">100</text>
<text x="30.2" y="49.42" font-size="7.0" fill="#6c6c6c" stroke="#6c6c6c" stroke-width="0.12" text-anchor="end">50</text>
<text x="30.2" y="77.32" font-size="7.0" fill="#6c6c6c" stroke="#6c6c6c" stroke-width="0.12" text-anchor="end">0</text>
<text x="30.2" y="106.12" font-size="7.0" fill="#6c6c6c" stroke="#6c6c6c" stroke-width="0.12" text-anchor="end">-50</text>
<text x="30.2" y="119.12" font-size="7.0" fill="#6c6c6c" stroke="#6c6c6c" stroke-width="0.12" text-anchor="end">45</text>
<text x="30.2" y="134.72" font-size="7.0" fill="#6c6c6c" stroke="#6c6c6c" stroke-width="0.12" text-anchor="end">0</text>
<text x="30.2" y="151.22" font-size="7.0" fill="#6c6c6c" stroke="#6c6c6c" stroke-width="0.12" text-anchor="end">-45</text>
<text x="30.2" y="166.62" font-size="7.0" fill="#6c6c6c" stroke="#6c6c6c" stroke-width="0.12" text-anchor="end">-90</text>
<text x="30.2" y="181.72" font-size="7.0" fill="#6c6c6c" stroke="#6c6c6c" stroke-width="0.12" text-anchor="end">-135</text>
<text x="30.2" y="198.02" font-size="7.0" fill="#6c6c6c" stroke="#6c6c6c" stroke-width="0.12" text-anchor="end">-180</text>
<text x="36.3" y="207.8" font-size="7.4" fill="#6c6c6c" stroke="#6c6c6c" stroke-width="0.12" text-anchor="end">10</text>
<text x="36.9" y="204.7" font-size="6.3" fill="#6c6c6c" stroke="#6c6c6c" stroke-width="0.1">0</text>
<text x="105.17" y="207.8" font-size="7.4" fill="#6c6c6c" stroke="#6c6c6c" stroke-width="0.12" text-anchor="end">10</text>
<text x="105.77" y="204.7" font-size="6.3" fill="#6c6c6c" stroke="#6c6c6c" stroke-width="0.1">2</text>
<text x="174.03" y="207.8" font-size="7.4" fill="#6c6c6c" stroke="#6c6c6c" stroke-width="0.12" text-anchor="end">10</text>
<text x="174.63" y="204.7" font-size="6.3" fill="#6c6c6c" stroke="#6c6c6c" stroke-width="0.1">4</text>
<text x="242.9" y="207.8" font-size="7.4" fill="#6c6c6c" stroke="#6c6c6c" stroke-width="0.12" text-anchor="end">10</text>
<text x="243.5" y="204.7" font-size="6.3" fill="#6c6c6c" stroke="#6c6c6c" stroke-width="0.1">6</text>
<text transform="translate(13.2 62.8) rotate(-90)" font-size="8.2" fill="#222222" stroke="#222222" stroke-width="0.12" text-anchor="middle">Magnitude (dB)</text>
<text transform="translate(11.3 154.7) rotate(-90)" font-size="8.2" fill="#222222" stroke="#222222" stroke-width="0.12" text-anchor="middle">Phase (deg)</text>
<text transform="translate(148.8 10.4) scale(1 1.1)" font-size="8" font-weight="bold" fill="#111" stroke="#111" stroke-width="0.2" text-anchor="middle">Bode Diagram</text>
<text x="148.7" y="216.7" font-size="8" fill="#222222" stroke="#222222" stroke-width="0.12" text-anchor="middle" xml:space="preserve">Frequency  (Hz)</text>
<line x1="347.44" y1="19.4" x2="347.44" y2="107.8" stroke="#e9e9e9" stroke-width="0.6" stroke-dasharray="0.8 0.8"/>
<line x1="367.41" y1="19.4" x2="367.41" y2="107.8" stroke="#e9e9e9" stroke-width="0.6" stroke-dasharray="0.8 0.8"/>
<line x1="381.57" y1="19.4" x2="381.57" y2="107.8" stroke="#e9e9e9" stroke-width="0.6" stroke-dasharray="0.8 0.8"/>
<line x1="392.56" y1="19.4" x2="392.56" y2="107.8" stroke="#e9e9e9" stroke-width="0.6" stroke-dasharray="0.8 0.8"/>
<line x1="401.54" y1="19.4" x2="401.54" y2="107.8" stroke="#e9e9e9" stroke-width="0.6" stroke-dasharray="0.8 0.8"/>
<line x1="409.13" y1="19.4" x2="409.13" y2="107.8" stroke="#e9e9e9" stroke-width="0.6" stroke-dasharray="0.8 0.8"/>
<line x1="415.71" y1="19.4" x2="415.71" y2="107.8" stroke="#e9e9e9" stroke-width="0.6" stroke-dasharray="0.8 0.8"/>
<line x1="421.51" y1="19.4" x2="421.51" y2="107.8" stroke="#e9e9e9" stroke-width="0.6" stroke-dasharray="0.8 0.8"/>
<line x1="460.84" y1="19.4" x2="460.84" y2="107.8" stroke="#e9e9e9" stroke-width="0.6" stroke-dasharray="0.8 0.8"/>
<line x1="480.81" y1="19.4" x2="480.81" y2="107.8" stroke="#e9e9e9" stroke-width="0.6" stroke-dasharray="0.8 0.8"/>
<line x1="494.97" y1="19.4" x2="494.97" y2="107.8" stroke="#e9e9e9" stroke-width="0.6" stroke-dasharray="0.8 0.8"/>
<line x1="505.96" y1="19.4" x2="505.96" y2="107.8" stroke="#e9e9e9" stroke-width="0.6" stroke-dasharray="0.8 0.8"/>
<line x1="514.94" y1="19.4" x2="514.94" y2="107.8" stroke="#e9e9e9" stroke-width="0.6" stroke-dasharray="0.8 0.8"/>
<line x1="522.53" y1="19.4" x2="522.53" y2="107.8" stroke="#e9e9e9" stroke-width="0.6" stroke-dasharray="0.8 0.8"/>
<line x1="529.11" y1="19.4" x2="529.11" y2="107.8" stroke="#e9e9e9" stroke-width="0.6" stroke-dasharray="0.8 0.8"/>
<line x1="534.91" y1="19.4" x2="534.91" y2="107.8" stroke="#e9e9e9" stroke-width="0.6" stroke-dasharray="0.8 0.8"/>
<line x1="426.7" y1="19.4" x2="426.7" y2="107.8" stroke="#e3e3e3" stroke-width="0.7"/>
<line x1="313.3" y1="37.13" x2="540.1" y2="37.13" stroke="#e3e3e3" stroke-width="0.7"/>
<line x1="313.3" y1="54.85" x2="540.1" y2="54.85" stroke="#e3e3e3" stroke-width="0.7"/>
<line x1="313.3" y1="72.57" x2="540.1" y2="72.57" stroke="#e3e3e3" stroke-width="0.7"/>
<line x1="313.3" y1="90.29" x2="540.1" y2="90.29" stroke="#e3e3e3" stroke-width="0.7"/>
<line x1="347.44" y1="115.3" x2="347.44" y2="193" stroke="#e9e9e9" stroke-width="0.6" stroke-dasharray="0.8 0.8"/>
<line x1="367.41" y1="115.3" x2="367.41" y2="193" stroke="#e9e9e9" stroke-width="0.6" stroke-dasharray="0.8 0.8"/>
<line x1="381.57" y1="115.3" x2="381.57" y2="193" stroke="#e9e9e9" stroke-width="0.6" stroke-dasharray="0.8 0.8"/>
<line x1="392.56" y1="115.3" x2="392.56" y2="193" stroke="#e9e9e9" stroke-width="0.6" stroke-dasharray="0.8 0.8"/>
<line x1="401.54" y1="115.3" x2="401.54" y2="193" stroke="#e9e9e9" stroke-width="0.6" stroke-dasharray="0.8 0.8"/>
<line x1="409.13" y1="115.3" x2="409.13" y2="193" stroke="#e9e9e9" stroke-width="0.6" stroke-dasharray="0.8 0.8"/>
<line x1="415.71" y1="115.3" x2="415.71" y2="193" stroke="#e9e9e9" stroke-width="0.6" stroke-dasharray="0.8 0.8"/>
<line x1="421.51" y1="115.3" x2="421.51" y2="193" stroke="#e9e9e9" stroke-width="0.6" stroke-dasharray="0.8 0.8"/>
<line x1="460.84" y1="115.3" x2="460.84" y2="193" stroke="#e9e9e9" stroke-width="0.6" stroke-dasharray="0.8 0.8"/>
<line x1="480.81" y1="115.3" x2="480.81" y2="193" stroke="#e9e9e9" stroke-width="0.6" stroke-dasharray="0.8 0.8"/>
<line x1="494.97" y1="115.3" x2="494.97" y2="193" stroke="#e9e9e9" stroke-width="0.6" stroke-dasharray="0.8 0.8"/>
<line x1="505.96" y1="115.3" x2="505.96" y2="193" stroke="#e9e9e9" stroke-width="0.6" stroke-dasharray="0.8 0.8"/>
<line x1="514.94" y1="115.3" x2="514.94" y2="193" stroke="#e9e9e9" stroke-width="0.6" stroke-dasharray="0.8 0.8"/>
<line x1="522.53" y1="115.3" x2="522.53" y2="193" stroke="#e9e9e9" stroke-width="0.6" stroke-dasharray="0.8 0.8"/>
<line x1="529.11" y1="115.3" x2="529.11" y2="193" stroke="#e9e9e9" stroke-width="0.6" stroke-dasharray="0.8 0.8"/>
<line x1="534.91" y1="115.3" x2="534.91" y2="193" stroke="#e9e9e9" stroke-width="0.6" stroke-dasharray="0.8 0.8"/>
<line x1="426.7" y1="115.3" x2="426.7" y2="193" stroke="#e3e3e3" stroke-width="0.7"/>
<line x1="313.3" y1="141.6" x2="540.1" y2="141.6" stroke="#e3e3e3" stroke-width="0.7"/>
<line x1="313.3" y1="167.5" x2="540.1" y2="167.5" stroke="#e3e3e3" stroke-width="0.7"/>
<line x1="313.3" y1="54.85" x2="540.1" y2="54.85" stroke="#808080" stroke-width="0.8" stroke-dasharray="4.4 1.5 1 1.8"/>
<line x1="313.3" y1="192.6" x2="540.1" y2="192.6" stroke="#5a5a5a" stroke-width="0.9" stroke-dasharray="4.4 1.5 1 1.8"/>
<path d="M313.3 34.8 L317.15 36.01 L321 37.22 L324.85 38.44 L328.7 39.66 L332.54 40.88 L336.39 42.11 L340.23 43.34 L344.07 44.57 L347.92 45.8 L351.76 47.04 L355.6 48.28 L359.44 49.53 L363.28 50.77 L367.12 52.02 L370.95 53.27 L374.79 54.52 L378.63 55.78 L382.46 57.04 L386.29 58.31 L390.12 59.59 L393.95 60.87 L397.77 62.15 L401.6 63.42 L405.43 64.69 L409.27 65.96 L413.1 67.22 L416.94 68.47 L420.77 69.72 L424.61 70.97 L428.45 72.22 L432.29 73.47 L436.13 74.71 L439.97 75.96 L443.81 77.2 L447.65 78.44 L451.49 79.67 L455.33 80.91 L459.17 82.14 L463.02 83.38 L466.86 84.61 L470.7 85.84 L474.55 87.07 L478.39 88.29 L482.25 89.5 L486.1 90.7 L489.96 91.89 L493.81 93.07 L497.67 94.25 L501.53 95.43 L505.4 96.6 L509.26 97.77 L513.12 98.93 L516.99 100.1 L520.85 101.26 L524.72 102.41 L528.59 103.57 L532.46 104.71 L536.33 105.86 L540.2 107" fill="none" stroke="#4eaad0" stroke-width="1.2"/>
<line x1="376.4" y1="142.7" x2="376.4" y2="193" stroke="#666" stroke-width="0.7"/>
<path d="M313.3 141.3 L315.59 141.36 L317.88 141.43 L320.17 141.49 L322.46 141.55 L324.75 141.61 L327.04 141.67 L329.33 141.73 L331.63 141.79 L333.92 141.84 L336.21 141.9 L338.5 141.95 L340.79 142.01 L343.08 142.06 L345.37 142.11 L347.66 142.16 L349.95 142.21 L352.24 142.25 L354.53 142.3 L356.82 142.35 L359.12 142.39 L361.41 142.44 L363.7 142.48 L365.99 142.52 L368.28 142.57 L370.57 142.6 L372.86 142.64 L375.15 142.68 L377.44 142.71 L379.74 142.75 L382.03 142.79 L384.32 142.83 L386.61 142.87 L388.9 142.9 L391.19 142.94 L393.48 142.96 L395.77 142.98 L398.07 143 L400.36 143 L402.65 143 L404.94 143 L407.23 143 L409.52 143 L411.81 143 L414.11 143 L416.4 143 L418.69 143 L420.98 143 L423.27 143 L425.56 143 L427.85 143 L430.15 142.99 L432.44 142.97 L434.73 142.95 L437.02 142.92 L439.31 142.89 L441.6 142.85 L443.89 142.81 L446.18 142.77 L448.48 142.72 L450.77 142.68 L453.06 142.63 L455.35 142.59 L457.64 142.54 L459.93 142.5 L462.22 142.46 L464.51 142.42 L466.8 142.37 L469.09 142.33 L471.39 142.28 L473.68 142.23 L475.97 142.18 L478.26 142.13 L480.55 142.08 L482.84 142.03 L485.13 141.98 L487.42 141.92 L489.71 141.86 L492 141.81 L494.29 141.75 L496.58 141.69 L498.88 141.63 L501.17 141.57 L503.46 141.51 L505.75 141.44 L508.04 141.38 L510.33 141.31 L512.62 141.24 L514.91 141.17 L517.2 141.1 L519.49 141.02 L521.78 140.95 L524.07 140.87 L526.36 140.79 L528.65 140.71 L530.94 140.63 L533.23 140.55 L535.52 140.47 L537.81 140.39 L540.1 140.3" fill="none" stroke="#4eaad0" stroke-width="1.2"/>
<circle cx="376.4" cy="142.7" r="2.5" fill="#0072bd"/>
<rect x="313.3" y="19.4" width="226.8" height="88.4" fill="none" stroke="#999999" stroke-width="1.0"/>
<rect x="313.3" y="115.3" width="226.8" height="77.7" fill="none" stroke="#999999" stroke-width="1.0"/>
<path d="M347.44 19v1.4M347.44 108.2v-1.4M367.41 19v1.4M367.41 108.2v-1.4M381.57 19v1.4M381.57 108.2v-1.4M392.56 19v1.4M392.56 108.2v-1.4M401.54 19v1.4M401.54 108.2v-1.4M409.13 19v1.4M409.13 108.2v-1.4M415.71 19v1.4M415.71 108.2v-1.4M421.51 19v1.4M421.51 108.2v-1.4M426.7 19v2M426.7 108.2v-2M460.84 19v1.4M460.84 108.2v-1.4M480.81 19v1.4M480.81 108.2v-1.4M494.97 19v1.4M494.97 108.2v-1.4M505.96 19v1.4M505.96 108.2v-1.4M514.94 19v1.4M514.94 108.2v-1.4M522.53 19v1.4M522.53 108.2v-1.4M529.11 19v1.4M529.11 108.2v-1.4M534.91 19v1.4M534.91 108.2v-1.4M312.9 37.13h2.2M540.5 37.13h-2.2M312.9 54.85h2.2M540.5 54.85h-2.2M312.9 72.57h2.2M540.5 72.57h-2.2M312.9 90.29h2.2M540.5 90.29h-2.2" stroke="#777" stroke-width="0.7" fill="none"/>
<path d="M347.44 114.9v1.4M347.44 193.4v-1.4M367.41 114.9v1.4M367.41 193.4v-1.4M381.57 114.9v1.4M381.57 193.4v-1.4M392.56 114.9v1.4M392.56 193.4v-1.4M401.54 114.9v1.4M401.54 193.4v-1.4M409.13 114.9v1.4M409.13 193.4v-1.4M415.71 114.9v1.4M415.71 193.4v-1.4M421.51 114.9v1.4M421.51 193.4v-1.4M426.7 114.9v2M426.7 193.4v-2M460.84 114.9v1.4M460.84 193.4v-1.4M480.81 114.9v1.4M480.81 193.4v-1.4M494.97 114.9v1.4M494.97 193.4v-1.4M505.96 114.9v1.4M505.96 193.4v-1.4M514.94 114.9v1.4M514.94 193.4v-1.4M522.53 114.9v1.4M522.53 193.4v-1.4M529.11 114.9v1.4M529.11 193.4v-1.4M534.91 114.9v1.4M534.91 193.4v-1.4M312.9 141.6h2.2M540.5 141.6h-2.2M312.9 167.5h2.2M540.5 167.5h-2.2" stroke="#777" stroke-width="0.7" fill="none"/>
<circle cx="540.2" cy="107.1" r="2.1" fill="#fff" fill-opacity="0.6" stroke="#0072bd" stroke-width="0.9"/>
<text x="309.8" y="22.53" font-size="7.0" fill="#6c6c6c" stroke="#6c6c6c" stroke-width="0.12" text-anchor="end">20</text>
<text x="309.8" y="40.45" font-size="7.0" fill="#6c6c6c" stroke="#6c6c6c" stroke-width="0.12" text-anchor="end">10</text>
<text x="309.8" y="58.27" font-size="7.0" fill="#6c6c6c" stroke="#6c6c6c" stroke-width="0.12" text-anchor="end">0</text>
<text x="309.8" y="76.09" font-size="7.0" fill="#6c6c6c" stroke="#6c6c6c" stroke-width="0.12" text-anchor="end">-10</text>
<text x="309.8" y="93.91" font-size="7.0" fill="#6c6c6c" stroke="#6c6c6c" stroke-width="0.12" text-anchor="end">-20</text>
<text x="309.8" y="111.52" font-size="7.0" fill="#6c6c6c" stroke="#6c6c6c" stroke-width="0.12" text-anchor="end">-30</text>
<text x="309.8" y="118.22" font-size="7.0" fill="#6c6c6c" stroke="#6c6c6c" stroke-width="0.12" text-anchor="end">-45</text>
<text x="309.8" y="144.82" font-size="7.0" fill="#6c6c6c" stroke="#6c6c6c" stroke-width="0.12" text-anchor="end">-90</text>
<text x="309.8" y="170.02" font-size="7.0" fill="#6c6c6c" stroke="#6c6c6c" stroke-width="0.12" text-anchor="end">-135</text>
<text x="309.8" y="197.12" font-size="7.0" fill="#6c6c6c" stroke="#6c6c6c" stroke-width="0.12" text-anchor="end">-180</text>
<text x="314.6" y="205.4" font-size="7.4" fill="#6c6c6c" stroke="#6c6c6c" stroke-width="0.12" text-anchor="end">10</text>
<text x="315.2" y="202.3" font-size="6.3" fill="#6c6c6c" stroke="#6c6c6c" stroke-width="0.1">0</text>
<text x="428" y="205.4" font-size="7.4" fill="#6c6c6c" stroke="#6c6c6c" stroke-width="0.12" text-anchor="end">10</text>
<text x="428.6" y="202.3" font-size="6.3" fill="#6c6c6c" stroke="#6c6c6c" stroke-width="0.1">1</text>
<text x="541.4" y="205.4" font-size="7.4" fill="#6c6c6c" stroke="#6c6c6c" stroke-width="0.12" text-anchor="end">10</text>
<text x="542" y="202.3" font-size="6.3" fill="#6c6c6c" stroke="#6c6c6c" stroke-width="0.1">2</text>
<text transform="translate(295 63.5) rotate(-90)" font-size="8.2" fill="#222222" stroke="#222222" stroke-width="0.12" text-anchor="middle">Magnitude (dB)</text>
<text transform="translate(291 154.2) rotate(-90)" font-size="8.2" fill="#222222" stroke="#222222" stroke-width="0.12" text-anchor="middle">Phase (deg)</text>
<text transform="translate(425.6 12.7) scale(1 1.1)" font-size="8" font-weight="bold" fill="#111" stroke="#111" stroke-width="0.2" text-anchor="middle">Bode Diagram</text>
<text x="425.9" y="214.7" font-size="7.9" fill="#222222" stroke="#222222" stroke-width="0.12" text-anchor="middle" xml:space="preserve">Frequency  (Hz)</text>
<text transform="translate(128.6 236.6) scale(1 1.18)" font-family='"Liberation Serif", "Times New Roman", serif' font-size="13.5" fill="#111" text-anchor="middle">(</text>
<text transform="translate(140.6 236.6) scale(1 1.18)" font-family='"Liberation Serif", "Times New Roman", serif' font-size="13.5" fill="#111" text-anchor="middle">)</text>
<text transform="translate(134.8 235.5) scale(1.0 1)" font-family='"Liberation Serif", "Times New Roman", serif' font-size="13.5" font-weight="bold" fill="#111" text-anchor="middle">a</text>
<text transform="translate(407.7 235.8) scale(1 1.18)" font-family='"Liberation Serif", "Times New Roman", serif' font-size="13.5" fill="#111" text-anchor="middle">(</text>
<text transform="translate(421.1 235.8) scale(1 1.18)" font-family='"Liberation Serif", "Times New Roman", serif' font-size="13.5" fill="#111" text-anchor="middle">)</text>
<text transform="translate(414.6 234.9) scale(1.08 1)" font-family='"Liberation Serif", "Times New Roman", serif' font-size="13.6" font-weight="bold" fill="#111" text-anchor="middle">b</text>
</svg></body></html>
